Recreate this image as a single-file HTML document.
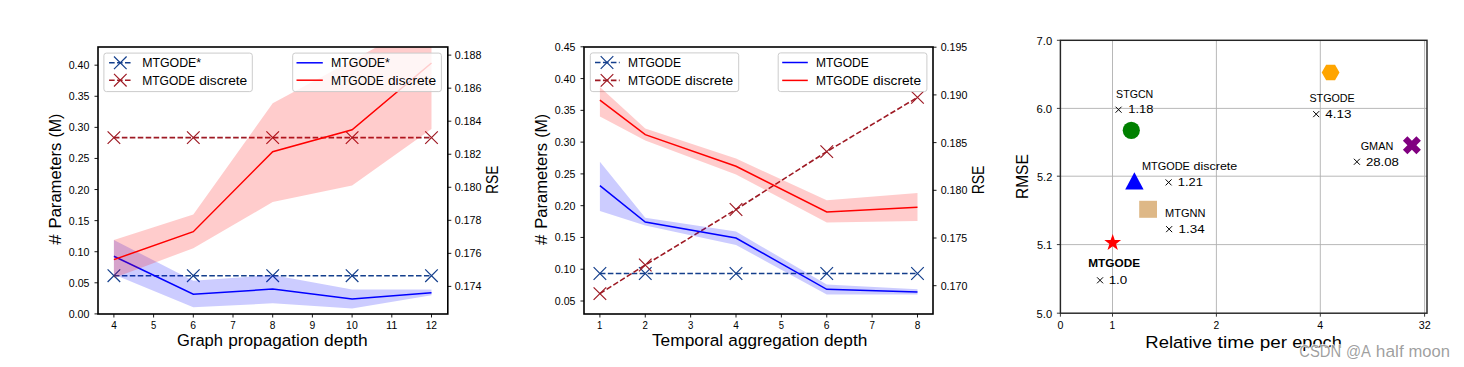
<!DOCTYPE html>
<html><head><meta charset="utf-8"><style>
html,body{margin:0;padding:0;background:#fff;width:1464px;height:367px;overflow:hidden;position:relative}
svg text{font-family:"Liberation Sans", sans-serif}
</style></head><body>
<svg width="1464" height="367" viewBox="0 0 1464 367" style="position:absolute;left:0;top:0" font-family='"Liberation Sans", sans-serif'>
<rect width="1464" height="367" fill="#fff"/>
<defs><clipPath id="c1"><rect x="98.0" y="47.0" width="349.8" height="267.0"/></clipPath><clipPath id="c2"><rect x="583.9" y="46.9" width="349.2" height="267.1"/></clipPath></defs>
<g clip-path="url(#c1)">
<polyline points="113.90,275.70 193.30,275.70 272.70,275.70 352.10,275.70 431.50,275.70" fill="none" stroke="#143f8c" stroke-width="1.6" stroke-dasharray="5.55 2.4"/>
<path d="M107.60,269.40L120.20,282.00M107.60,282.00L120.20,269.40" stroke="#143f8c" stroke-width="1.2" fill="none"/>
<path d="M187.00,269.40L199.60,282.00M187.00,282.00L199.60,269.40" stroke="#143f8c" stroke-width="1.2" fill="none"/>
<path d="M266.40,269.40L279.00,282.00M266.40,282.00L279.00,269.40" stroke="#143f8c" stroke-width="1.2" fill="none"/>
<path d="M345.80,269.40L358.40,282.00M345.80,282.00L358.40,269.40" stroke="#143f8c" stroke-width="1.2" fill="none"/>
<path d="M425.20,269.40L437.80,282.00M425.20,282.00L437.80,269.40" stroke="#143f8c" stroke-width="1.2" fill="none"/>
<polyline points="113.90,137.60 193.30,137.60 272.70,137.60 352.10,137.60 431.50,137.60" fill="none" stroke="#9e1a24" stroke-width="1.6" stroke-dasharray="5.55 2.4"/>
<path d="M107.60,131.30L120.20,143.90M107.60,143.90L120.20,131.30" stroke="#9e1a24" stroke-width="1.2" fill="none"/>
<path d="M187.00,131.30L199.60,143.90M187.00,143.90L199.60,131.30" stroke="#9e1a24" stroke-width="1.2" fill="none"/>
<path d="M266.40,131.30L279.00,143.90M266.40,143.90L279.00,131.30" stroke="#9e1a24" stroke-width="1.2" fill="none"/>
<path d="M345.80,131.30L358.40,143.90M345.80,143.90L358.40,131.30" stroke="#9e1a24" stroke-width="1.2" fill="none"/>
<path d="M425.20,131.30L437.80,143.90M425.20,143.90L437.80,131.30" stroke="#9e1a24" stroke-width="1.2" fill="none"/>
</g>
<rect x="103.90" y="53.10" width="148.40" height="38.50" rx="2.5" ry="2.5" fill="rgba(255,255,255,0.8)" stroke="#cccccc" stroke-width="1"/>
<line x1="109.10" y1="62.80" x2="130.60" y2="62.80" stroke="#143f8c" stroke-width="1.6" stroke-dasharray="5.55 2.4"/>
<path d="M114.00,56.50L126.60,69.10M114.00,69.10L126.60,56.50" stroke="#143f8c" stroke-width="1.2" fill="none"/>
<text x="142.19" y="67.20" font-size="12" textLength="58.92" lengthAdjust="spacingAndGlyphs" >MTGODE*</text>
<line x1="109.10" y1="80.20" x2="130.60" y2="80.20" stroke="#9e1a24" stroke-width="1.6" stroke-dasharray="5.55 2.4"/>
<path d="M114.00,73.90L126.60,86.50M114.00,86.50L126.60,73.90" stroke="#9e1a24" stroke-width="1.2" fill="none"/>
<text x="142.21" y="84.60" font-size="12" textLength="52.81" lengthAdjust="spacingAndGlyphs" >MTGODE</text>
<text x="199.17" y="84.60" font-size="12" textLength="48.09" lengthAdjust="spacingAndGlyphs" >discrete</text>
<g clip-path="url(#c1)">
<polygon points="113.90,240.00 193.30,280.70 272.70,275.00 352.10,289.40 431.50,289.40 431.50,295.20 352.10,308.60 272.70,303.30 193.30,307.30 113.90,274.50" fill="rgba(0,0,255,0.2)" stroke="none"/>
<polyline points="113.90,256.30 193.30,294.20 272.70,289.10 352.10,298.90 431.50,292.70" fill="none" stroke="#0000ff" stroke-width="1.5"/>
<polygon points="113.90,240.00 193.30,214.50 272.70,103.30 352.10,60.50 431.50,17.00 431.50,129.10 352.10,185.50 272.70,202.10 193.30,248.20 113.90,278.00" fill="rgba(255,0,0,0.2)" stroke="none"/>
<polyline points="113.90,259.60 193.30,231.70 272.70,151.70 352.10,129.70 431.50,63.00" fill="none" stroke="#ff0000" stroke-width="1.5"/>
</g>
<rect x="292.70" y="53.10" width="148.70" height="38.50" rx="2.5" ry="2.5" fill="rgba(255,255,255,0.8)" stroke="#cccccc" stroke-width="1"/>
<line x1="296.50" y1="62.80" x2="322.80" y2="62.80" stroke="#0000ff" stroke-width="1.5"/>
<text x="330.99" y="67.20" font-size="12" textLength="58.92" lengthAdjust="spacingAndGlyphs" >MTGODE*</text>
<line x1="296.50" y1="80.20" x2="322.80" y2="80.20" stroke="#ff0000" stroke-width="1.5"/>
<text x="331.01" y="84.60" font-size="12" textLength="52.81" lengthAdjust="spacingAndGlyphs" >MTGODE</text>
<text x="387.97" y="84.60" font-size="12" textLength="48.09" lengthAdjust="spacingAndGlyphs" >discrete</text>
<rect x="98.00" y="47.00" width="349.80" height="267.00" fill="none" stroke="#000" stroke-width="1.6"/>
<line x1="94.50" y1="313.90" x2="98.00" y2="313.90" stroke="#000" stroke-width="0.9"/>
<text x="68.69" y="317.90" font-size="10" textLength="20.73" lengthAdjust="spacingAndGlyphs" >0.00</text>
<line x1="94.50" y1="282.81" x2="98.00" y2="282.81" stroke="#000" stroke-width="0.9"/>
<text x="68.89" y="286.81" font-size="10" textLength="20.55" lengthAdjust="spacingAndGlyphs" >0.05</text>
<line x1="94.50" y1="251.72" x2="98.00" y2="251.72" stroke="#000" stroke-width="0.9"/>
<text x="68.69" y="255.72" font-size="10" textLength="20.73" lengthAdjust="spacingAndGlyphs" >0.10</text>
<line x1="94.50" y1="220.63" x2="98.00" y2="220.63" stroke="#000" stroke-width="0.9"/>
<text x="68.89" y="224.63" font-size="10" textLength="20.55" lengthAdjust="spacingAndGlyphs" >0.15</text>
<line x1="94.50" y1="189.54" x2="98.00" y2="189.54" stroke="#000" stroke-width="0.9"/>
<text x="68.69" y="193.54" font-size="10" textLength="20.73" lengthAdjust="spacingAndGlyphs" >0.20</text>
<line x1="94.50" y1="158.45" x2="98.00" y2="158.45" stroke="#000" stroke-width="0.9"/>
<text x="68.89" y="162.45" font-size="10" textLength="20.55" lengthAdjust="spacingAndGlyphs" >0.25</text>
<line x1="94.50" y1="127.36" x2="98.00" y2="127.36" stroke="#000" stroke-width="0.9"/>
<text x="68.69" y="131.36" font-size="10" textLength="20.73" lengthAdjust="spacingAndGlyphs" >0.30</text>
<line x1="94.50" y1="96.27" x2="98.00" y2="96.27" stroke="#000" stroke-width="0.9"/>
<text x="68.89" y="100.27" font-size="10" textLength="20.55" lengthAdjust="spacingAndGlyphs" >0.35</text>
<line x1="94.50" y1="65.18" x2="98.00" y2="65.18" stroke="#000" stroke-width="0.9"/>
<text x="68.69" y="69.18" font-size="10" textLength="20.73" lengthAdjust="spacingAndGlyphs" >0.40</text>
<line x1="113.90" y1="314.00" x2="113.90" y2="317.50" stroke="#000" stroke-width="0.9"/>
<text x="111.15" y="328.90" font-size="10" textLength="5.57" lengthAdjust="spacingAndGlyphs" >4</text>
<line x1="153.60" y1="314.00" x2="153.60" y2="317.50" stroke="#000" stroke-width="0.9"/>
<text x="150.98" y="328.90" font-size="10" textLength="5.26" lengthAdjust="spacingAndGlyphs" >5</text>
<line x1="193.30" y1="314.00" x2="193.30" y2="317.50" stroke="#000" stroke-width="0.9"/>
<text x="190.38" y="328.90" font-size="10" textLength="5.76" lengthAdjust="spacingAndGlyphs" >6</text>
<line x1="233.00" y1="314.00" x2="233.00" y2="317.50" stroke="#000" stroke-width="0.9"/>
<text x="230.27" y="328.90" font-size="10" textLength="5.45" lengthAdjust="spacingAndGlyphs" >7</text>
<line x1="272.70" y1="314.00" x2="272.70" y2="317.50" stroke="#000" stroke-width="0.9"/>
<text x="269.89" y="328.90" font-size="10" textLength="5.63" lengthAdjust="spacingAndGlyphs" >8</text>
<line x1="312.40" y1="314.00" x2="312.40" y2="317.50" stroke="#000" stroke-width="0.9"/>
<text x="309.53" y="328.90" font-size="10" textLength="5.75" lengthAdjust="spacingAndGlyphs" >9</text>
<line x1="352.10" y1="314.00" x2="352.10" y2="317.50" stroke="#000" stroke-width="0.9"/>
<text x="346.10" y="328.90" font-size="10" textLength="11.62" lengthAdjust="spacingAndGlyphs" >10</text>
<line x1="391.80" y1="314.00" x2="391.80" y2="317.50" stroke="#000" stroke-width="0.9"/>
<text x="385.93" y="328.90" font-size="10" textLength="11.46" lengthAdjust="spacingAndGlyphs" >11</text>
<line x1="431.50" y1="314.00" x2="431.50" y2="317.50" stroke="#000" stroke-width="0.9"/>
<text x="425.67" y="328.90" font-size="10" textLength="11.39" lengthAdjust="spacingAndGlyphs" >12</text>
<line x1="447.80" y1="286.40" x2="451.30" y2="286.40" stroke="#000" stroke-width="0.9"/>
<text x="454.68" y="290.40" font-size="10" textLength="26.77" lengthAdjust="spacingAndGlyphs" >0.174</text>
<line x1="447.80" y1="253.36" x2="451.30" y2="253.36" stroke="#000" stroke-width="0.9"/>
<text x="454.68" y="257.36" font-size="10" textLength="26.86" lengthAdjust="spacingAndGlyphs" >0.176</text>
<line x1="447.80" y1="220.32" x2="451.30" y2="220.32" stroke="#000" stroke-width="0.9"/>
<text x="454.68" y="224.32" font-size="10" textLength="26.80" lengthAdjust="spacingAndGlyphs" >0.178</text>
<line x1="447.80" y1="187.28" x2="451.30" y2="187.28" stroke="#000" stroke-width="0.9"/>
<text x="454.68" y="191.28" font-size="10" textLength="26.78" lengthAdjust="spacingAndGlyphs" >0.180</text>
<line x1="447.80" y1="154.24" x2="451.30" y2="154.24" stroke="#000" stroke-width="0.9"/>
<text x="454.69" y="158.24" font-size="10" textLength="26.57" lengthAdjust="spacingAndGlyphs" >0.182</text>
<line x1="447.80" y1="121.20" x2="451.30" y2="121.20" stroke="#000" stroke-width="0.9"/>
<text x="454.68" y="125.20" font-size="10" textLength="26.77" lengthAdjust="spacingAndGlyphs" >0.184</text>
<line x1="447.80" y1="88.16" x2="451.30" y2="88.16" stroke="#000" stroke-width="0.9"/>
<text x="454.68" y="92.16" font-size="10" textLength="26.86" lengthAdjust="spacingAndGlyphs" >0.186</text>
<line x1="447.80" y1="55.12" x2="451.30" y2="55.12" stroke="#000" stroke-width="0.9"/>
<text x="454.68" y="59.12" font-size="10" textLength="26.80" lengthAdjust="spacingAndGlyphs" >0.188</text>
<text x="177.07" y="346.00" font-size="16.3" textLength="45.91" lengthAdjust="spacingAndGlyphs" >Graph</text>
<text x="228.22" y="346.00" font-size="16.3" textLength="90.84" lengthAdjust="spacingAndGlyphs" >propagation</text>
<text x="324.10" y="346.00" font-size="16.3" textLength="43.52" lengthAdjust="spacingAndGlyphs" >depth</text>
<text x="61.62" y="245.20" font-size="15.8" textLength="10.37" lengthAdjust="spacingAndGlyphs" transform="rotate(-90 61.10 245.20)" >#</text>
<text x="77.88" y="245.20" font-size="15.8" textLength="85.75" lengthAdjust="spacingAndGlyphs" transform="rotate(-90 61.10 245.20)" >Parameters</text>
<text x="168.78" y="245.20" font-size="15.8" textLength="23.91" lengthAdjust="spacingAndGlyphs" transform="rotate(-90 61.10 245.20)" >(M)</text>
<text x="497.47" y="193.40" font-size="15.8" textLength="28.22" lengthAdjust="spacingAndGlyphs" transform="rotate(-90 498.00 193.40)" >RSE</text>
<g clip-path="url(#c2)">
<polyline points="599.90,273.50 645.27,273.50 736.01,273.50 826.75,273.50 917.49,273.50" fill="none" stroke="#143f8c" stroke-width="1.6" stroke-dasharray="5.55 2.4"/>
<path d="M593.60,267.20L606.20,279.80M593.60,279.80L606.20,267.20" stroke="#143f8c" stroke-width="1.2" fill="none"/>
<path d="M638.97,267.20L651.57,279.80M638.97,279.80L651.57,267.20" stroke="#143f8c" stroke-width="1.2" fill="none"/>
<path d="M729.71,267.20L742.31,279.80M729.71,279.80L742.31,267.20" stroke="#143f8c" stroke-width="1.2" fill="none"/>
<path d="M820.45,267.20L833.05,279.80M820.45,279.80L833.05,267.20" stroke="#143f8c" stroke-width="1.2" fill="none"/>
<path d="M911.19,267.20L923.79,279.80M911.19,279.80L923.79,267.20" stroke="#143f8c" stroke-width="1.2" fill="none"/>
<polyline points="599.90,293.60 645.27,265.00 736.01,209.50 826.75,151.60 917.49,97.40" fill="none" stroke="#9e1a24" stroke-width="1.6" stroke-dasharray="5.55 2.4"/>
<path d="M593.60,287.30L606.20,299.90M593.60,299.90L606.20,287.30" stroke="#9e1a24" stroke-width="1.2" fill="none"/>
<path d="M638.97,258.70L651.57,271.30M638.97,271.30L651.57,258.70" stroke="#9e1a24" stroke-width="1.2" fill="none"/>
<path d="M729.71,203.20L742.31,215.80M729.71,215.80L742.31,203.20" stroke="#9e1a24" stroke-width="1.2" fill="none"/>
<path d="M820.45,145.30L833.05,157.90M820.45,157.90L833.05,145.30" stroke="#9e1a24" stroke-width="1.2" fill="none"/>
<path d="M911.19,91.10L923.79,103.70M911.19,103.70L923.79,91.10" stroke="#9e1a24" stroke-width="1.2" fill="none"/>
</g>
<rect x="590.30" y="52.90" width="148.40" height="38.70" rx="2.5" ry="2.5" fill="rgba(255,255,255,0.8)" stroke="#cccccc" stroke-width="1"/>
<line x1="595.00" y1="62.50" x2="619.70" y2="62.50" stroke="#143f8c" stroke-width="1.6" stroke-dasharray="5.55 2.4"/>
<path d="M600.70,56.20L613.30,68.80M600.70,68.80L613.30,56.20" stroke="#143f8c" stroke-width="1.2" fill="none"/>
<text x="628.11" y="66.90" font-size="12" textLength="52.81" lengthAdjust="spacingAndGlyphs" >MTGODE</text>
<line x1="595.00" y1="80.40" x2="619.70" y2="80.40" stroke="#9e1a24" stroke-width="1.6" stroke-dasharray="5.55 2.4"/>
<path d="M600.70,74.10L613.30,86.70M600.70,86.70L613.30,74.10" stroke="#9e1a24" stroke-width="1.2" fill="none"/>
<text x="628.11" y="84.80" font-size="12" textLength="52.81" lengthAdjust="spacingAndGlyphs" >MTGODE</text>
<text x="685.07" y="84.80" font-size="12" textLength="48.09" lengthAdjust="spacingAndGlyphs" >discrete</text>
<g clip-path="url(#c2)">
<polygon points="599.90,161.80 645.27,217.80 736.01,231.50 826.75,284.60 917.49,289.30 917.49,294.50 826.75,294.40 736.01,245.00 645.27,225.60 599.90,211.00" fill="rgba(0,0,255,0.2)" stroke="none"/>
<polyline points="599.90,185.70 645.27,222.00 736.01,238.00 826.75,289.30 917.49,292.00" fill="none" stroke="#0000ff" stroke-width="1.5"/>
<polygon points="599.90,87.00 645.27,128.50 736.01,158.50 826.75,200.30 917.49,193.00 917.49,221.00 826.75,222.50 736.01,174.50 645.27,140.50 599.90,116.60" fill="rgba(255,0,0,0.2)" stroke="none"/>
<polyline points="599.90,100.20 645.27,134.60 736.01,166.30 826.75,211.90 917.49,207.20" fill="none" stroke="#ff0000" stroke-width="1.5"/>
</g>
<rect x="778.20" y="52.90" width="148.70" height="38.70" rx="2.5" ry="2.5" fill="rgba(255,255,255,0.8)" stroke="#cccccc" stroke-width="1"/>
<line x1="782.20" y1="62.50" x2="807.80" y2="62.50" stroke="#0000ff" stroke-width="1.5"/>
<text x="816.01" y="66.90" font-size="12" textLength="52.81" lengthAdjust="spacingAndGlyphs" >MTGODE</text>
<line x1="782.20" y1="80.40" x2="807.80" y2="80.40" stroke="#ff0000" stroke-width="1.5"/>
<text x="816.01" y="84.80" font-size="12" textLength="52.81" lengthAdjust="spacingAndGlyphs" >MTGODE</text>
<text x="872.97" y="84.80" font-size="12" textLength="48.09" lengthAdjust="spacingAndGlyphs" >discrete</text>
<rect x="584.00" y="47.00" width="349.00" height="267.00" fill="none" stroke="#000" stroke-width="1.6"/>
<line x1="580.50" y1="301.00" x2="584.00" y2="301.00" stroke="#000" stroke-width="0.9"/>
<text x="554.89" y="305.00" font-size="10" textLength="20.55" lengthAdjust="spacingAndGlyphs" >0.05</text>
<line x1="580.50" y1="269.23" x2="584.00" y2="269.23" stroke="#000" stroke-width="0.9"/>
<text x="554.69" y="273.23" font-size="10" textLength="20.73" lengthAdjust="spacingAndGlyphs" >0.10</text>
<line x1="580.50" y1="237.45" x2="584.00" y2="237.45" stroke="#000" stroke-width="0.9"/>
<text x="554.89" y="241.45" font-size="10" textLength="20.55" lengthAdjust="spacingAndGlyphs" >0.15</text>
<line x1="580.50" y1="205.68" x2="584.00" y2="205.68" stroke="#000" stroke-width="0.9"/>
<text x="554.69" y="209.68" font-size="10" textLength="20.73" lengthAdjust="spacingAndGlyphs" >0.20</text>
<line x1="580.50" y1="173.90" x2="584.00" y2="173.90" stroke="#000" stroke-width="0.9"/>
<text x="554.89" y="177.90" font-size="10" textLength="20.55" lengthAdjust="spacingAndGlyphs" >0.25</text>
<line x1="580.50" y1="142.12" x2="584.00" y2="142.12" stroke="#000" stroke-width="0.9"/>
<text x="554.69" y="146.12" font-size="10" textLength="20.73" lengthAdjust="spacingAndGlyphs" >0.30</text>
<line x1="580.50" y1="110.35" x2="584.00" y2="110.35" stroke="#000" stroke-width="0.9"/>
<text x="554.89" y="114.35" font-size="10" textLength="20.55" lengthAdjust="spacingAndGlyphs" >0.35</text>
<line x1="580.50" y1="78.58" x2="584.00" y2="78.58" stroke="#000" stroke-width="0.9"/>
<text x="554.69" y="82.58" font-size="10" textLength="20.73" lengthAdjust="spacingAndGlyphs" >0.40</text>
<line x1="580.50" y1="46.80" x2="584.00" y2="46.80" stroke="#000" stroke-width="0.9"/>
<text x="554.89" y="50.80" font-size="10" textLength="20.55" lengthAdjust="spacingAndGlyphs" >0.45</text>
<line x1="599.90" y1="314.00" x2="599.90" y2="317.50" stroke="#000" stroke-width="0.9"/>
<text x="597.11" y="328.90" font-size="10" textLength="5.32" lengthAdjust="spacingAndGlyphs" >1</text>
<line x1="645.27" y1="314.00" x2="645.27" y2="317.50" stroke="#000" stroke-width="0.9"/>
<text x="642.59" y="328.90" font-size="10" textLength="5.37" lengthAdjust="spacingAndGlyphs" >2</text>
<line x1="690.64" y1="314.00" x2="690.64" y2="317.50" stroke="#000" stroke-width="0.9"/>
<text x="687.99" y="328.90" font-size="10" textLength="5.35" lengthAdjust="spacingAndGlyphs" >3</text>
<line x1="736.01" y1="314.00" x2="736.01" y2="317.50" stroke="#000" stroke-width="0.9"/>
<text x="733.26" y="328.90" font-size="10" textLength="5.57" lengthAdjust="spacingAndGlyphs" >4</text>
<line x1="781.38" y1="314.00" x2="781.38" y2="317.50" stroke="#000" stroke-width="0.9"/>
<text x="778.76" y="328.90" font-size="10" textLength="5.26" lengthAdjust="spacingAndGlyphs" >5</text>
<line x1="826.75" y1="314.00" x2="826.75" y2="317.50" stroke="#000" stroke-width="0.9"/>
<text x="823.83" y="328.90" font-size="10" textLength="5.76" lengthAdjust="spacingAndGlyphs" >6</text>
<line x1="872.12" y1="314.00" x2="872.12" y2="317.50" stroke="#000" stroke-width="0.9"/>
<text x="869.39" y="328.90" font-size="10" textLength="5.45" lengthAdjust="spacingAndGlyphs" >7</text>
<line x1="917.49" y1="314.00" x2="917.49" y2="317.50" stroke="#000" stroke-width="0.9"/>
<text x="914.68" y="328.90" font-size="10" textLength="5.63" lengthAdjust="spacingAndGlyphs" >8</text>
<line x1="933.00" y1="285.70" x2="936.50" y2="285.70" stroke="#000" stroke-width="0.9"/>
<text x="940.68" y="289.70" font-size="10" textLength="26.78" lengthAdjust="spacingAndGlyphs" >0.170</text>
<line x1="933.00" y1="238.00" x2="936.50" y2="238.00" stroke="#000" stroke-width="0.9"/>
<text x="940.68" y="242.00" font-size="10" textLength="26.60" lengthAdjust="spacingAndGlyphs" >0.175</text>
<line x1="933.00" y1="190.30" x2="936.50" y2="190.30" stroke="#000" stroke-width="0.9"/>
<text x="940.68" y="194.30" font-size="10" textLength="26.78" lengthAdjust="spacingAndGlyphs" >0.180</text>
<line x1="933.00" y1="142.60" x2="936.50" y2="142.60" stroke="#000" stroke-width="0.9"/>
<text x="940.68" y="146.60" font-size="10" textLength="26.60" lengthAdjust="spacingAndGlyphs" >0.185</text>
<line x1="933.00" y1="94.90" x2="936.50" y2="94.90" stroke="#000" stroke-width="0.9"/>
<text x="940.68" y="98.90" font-size="10" textLength="26.78" lengthAdjust="spacingAndGlyphs" >0.190</text>
<line x1="933.00" y1="47.20" x2="936.50" y2="47.20" stroke="#000" stroke-width="0.9"/>
<text x="940.68" y="51.20" font-size="10" textLength="26.60" lengthAdjust="spacingAndGlyphs" >0.195</text>
<text x="651.92" y="346.00" font-size="16.3" textLength="71.25" lengthAdjust="spacingAndGlyphs" >Temporal</text>
<text x="728.38" y="346.00" font-size="16.3" textLength="90.59" lengthAdjust="spacingAndGlyphs" >aggregation</text>
<text x="823.99" y="346.00" font-size="16.3" textLength="43.34" lengthAdjust="spacingAndGlyphs" >depth</text>
<text x="547.42" y="245.60" font-size="15.8" textLength="10.38" lengthAdjust="spacingAndGlyphs" transform="rotate(-90 546.90 245.60)" >#</text>
<text x="563.70" y="245.60" font-size="15.8" textLength="85.88" lengthAdjust="spacingAndGlyphs" transform="rotate(-90 546.90 245.60)" >Parameters</text>
<text x="654.75" y="245.60" font-size="15.8" textLength="23.94" lengthAdjust="spacingAndGlyphs" transform="rotate(-90 546.90 245.60)" >(M)</text>
<text x="983.76" y="193.80" font-size="15.8" textLength="28.64" lengthAdjust="spacingAndGlyphs" transform="rotate(-90 984.30 193.80)" >RSE</text>
<line x1="1112.50" y1="40.30" x2="1112.50" y2="313.20" stroke="#b0b0b0" stroke-width="0.9"/>
<line x1="1216.40" y1="40.30" x2="1216.40" y2="313.20" stroke="#b0b0b0" stroke-width="0.9"/>
<line x1="1320.30" y1="40.30" x2="1320.30" y2="313.20" stroke="#b0b0b0" stroke-width="0.9"/>
<line x1="1424.60" y1="40.30" x2="1424.60" y2="313.20" stroke="#b0b0b0" stroke-width="0.9"/>
<line x1="1060.40" y1="244.60" x2="1427.00" y2="244.60" stroke="#b0b0b0" stroke-width="0.9"/>
<line x1="1060.40" y1="176.20" x2="1427.00" y2="176.20" stroke="#b0b0b0" stroke-width="0.9"/>
<line x1="1060.40" y1="108.40" x2="1427.00" y2="108.40" stroke="#b0b0b0" stroke-width="0.9"/>
<rect x="1060.40" y="40.30" width="366.60" height="272.90" fill="none" stroke="#262626" stroke-width="1.45"/>
<line x1="1056.90" y1="313.20" x2="1060.40" y2="313.20" stroke="#262626" stroke-width="0.9"/>
<text x="1036.64" y="317.50" font-size="10.6" textLength="15.49" lengthAdjust="spacingAndGlyphs" >5.0</text>
<line x1="1056.90" y1="244.60" x2="1060.40" y2="244.60" stroke="#262626" stroke-width="0.9"/>
<text x="1036.91" y="248.90" font-size="10.6" textLength="15.33" lengthAdjust="spacingAndGlyphs" >5.1</text>
<line x1="1056.90" y1="176.20" x2="1060.40" y2="176.20" stroke="#262626" stroke-width="0.9"/>
<text x="1036.99" y="180.50" font-size="10.6" textLength="15.26" lengthAdjust="spacingAndGlyphs" >5.2</text>
<line x1="1056.90" y1="108.40" x2="1060.40" y2="108.40" stroke="#262626" stroke-width="0.9"/>
<text x="1036.44" y="112.70" font-size="10.6" textLength="15.70" lengthAdjust="spacingAndGlyphs" >6.0</text>
<line x1="1056.90" y1="40.30" x2="1060.40" y2="40.30" stroke="#262626" stroke-width="0.9"/>
<text x="1036.56" y="44.60" font-size="10.6" textLength="15.58" lengthAdjust="spacingAndGlyphs" >7.0</text>
<line x1="1060.40" y1="313.20" x2="1060.40" y2="316.70" stroke="#262626" stroke-width="0.9"/>
<text x="1057.44" y="329.10" font-size="10.6" textLength="5.92" lengthAdjust="spacingAndGlyphs" >0</text>
<line x1="1112.50" y1="313.20" x2="1112.50" y2="316.70" stroke="#262626" stroke-width="0.9"/>
<text x="1109.53" y="329.10" font-size="10.6" textLength="5.66" lengthAdjust="spacingAndGlyphs" >1</text>
<line x1="1216.40" y1="313.20" x2="1216.40" y2="316.70" stroke="#262626" stroke-width="0.9"/>
<text x="1213.55" y="329.10" font-size="10.6" textLength="5.71" lengthAdjust="spacingAndGlyphs" >2</text>
<line x1="1320.30" y1="313.20" x2="1320.30" y2="316.70" stroke="#262626" stroke-width="0.9"/>
<text x="1317.37" y="329.10" font-size="10.6" textLength="5.92" lengthAdjust="spacingAndGlyphs" >4</text>
<line x1="1424.60" y1="313.20" x2="1424.60" y2="316.70" stroke="#262626" stroke-width="0.9"/>
<text x="1418.65" y="329.10" font-size="10.6" textLength="12.03" lengthAdjust="spacingAndGlyphs" >32</text>
<text x="1145.39" y="348.30" font-size="16.9" textLength="66.71" lengthAdjust="spacingAndGlyphs" >Relative</text>
<text x="1217.50" y="348.30" font-size="16.9" textLength="36.89" lengthAdjust="spacingAndGlyphs" >time</text>
<text x="1259.89" y="348.30" font-size="16.9" textLength="27.28" lengthAdjust="spacingAndGlyphs" >per</text>
<text x="1292.19" y="348.30" font-size="16.9" textLength="49.59" lengthAdjust="spacingAndGlyphs" >epoch</text>
<text x="1027.53" y="198.30" font-size="16.3" textLength="44.74" lengthAdjust="spacingAndGlyphs" transform="rotate(-90 1028.20 198.30)" >RMSE</text>
<circle cx="1131.3" cy="130.3" r="8.6" fill="#008000"/>
<polygon points="1134.40,172.30 1143.60,189.60 1125.20,189.60" fill="#0000ff"/>
<rect x="1139.2" y="200.8" width="17.8" height="17.0" fill="#deb887"/>
<polygon points="1112.70,234.00 1114.76,239.97 1121.07,240.08 1116.03,243.88 1117.87,249.92 1112.70,246.30 1107.53,249.92 1109.37,243.88 1104.33,240.08 1110.64,239.97" fill="#ff0000"/>
<polygon points="1339.50,72.50 1335.05,80.21 1326.15,80.21 1321.70,72.50 1326.15,64.79 1335.05,64.79" fill="#ffa500"/>
<polygon points="1411.90,149.80 1416.40,154.30 1420.90,149.80 1416.40,145.30 1420.90,140.80 1416.40,136.30 1411.90,140.80 1407.40,136.30 1402.90,140.80 1407.40,145.30 1402.90,149.80 1407.40,154.30" fill="#800080"/>
<text x="1116.12" y="98.00" font-size="11.3" textLength="37.15" lengthAdjust="spacingAndGlyphs" >STGCN</text>
<path d="M1115.55,106.70L1121.55,112.70M1115.55,112.70L1121.55,106.70" stroke="#000" stroke-width="1.0" fill="none"/>
<text x="1128.21" y="113.40" font-size="11.3" textLength="25.25" lengthAdjust="spacingAndGlyphs" >1.18</text>
<text x="1141.90" y="170.30" font-size="11.3" textLength="47.93" lengthAdjust="spacingAndGlyphs" >MTGODE</text>
<text x="1193.60" y="170.30" font-size="11.3" textLength="43.65" lengthAdjust="spacingAndGlyphs" >discrete</text>
<path d="M1165.60,179.40L1171.60,185.40M1165.60,185.40L1171.60,179.40" stroke="#000" stroke-width="1.0" fill="none"/>
<text x="1177.71" y="186.30" font-size="11.3" textLength="25.22" lengthAdjust="spacingAndGlyphs" >1.21</text>
<text x="1164.99" y="216.50" font-size="11.3" textLength="40.51" lengthAdjust="spacingAndGlyphs" >MTGNN</text>
<path d="M1166.15,226.15L1172.15,232.15M1166.15,232.15L1172.15,226.15" stroke="#000" stroke-width="1.0" fill="none"/>
<text x="1178.58" y="232.80" font-size="11.3" textLength="26.01" lengthAdjust="spacingAndGlyphs" >1.34</text>
<text x="1088.31" y="267.20" font-size="11.3" textLength="51.75" lengthAdjust="spacingAndGlyphs" font-weight="bold" >MTGODE</text>
<path d="M1097.05,277.30L1103.05,283.30M1097.05,283.30L1103.05,277.30" stroke="#000" stroke-width="1.0" fill="none"/>
<text x="1108.68" y="283.80" font-size="11.3" textLength="18.65" lengthAdjust="spacingAndGlyphs" >1.0</text>
<text x="1309.41" y="102.30" font-size="11.3" textLength="45.35" lengthAdjust="spacingAndGlyphs" >STGODE</text>
<path d="M1313.20,111.15L1319.20,117.15M1313.20,117.15L1319.20,111.15" stroke="#000" stroke-width="1.0" fill="none"/>
<text x="1325.29" y="117.90" font-size="11.3" textLength="26.10" lengthAdjust="spacingAndGlyphs" >4.13</text>
<text x="1360.65" y="149.80" font-size="11.3" textLength="32.63" lengthAdjust="spacingAndGlyphs" >GMAN</text>
<path d="M1353.90,158.75L1359.90,164.75M1353.90,164.75L1359.90,158.75" stroke="#000" stroke-width="1.0" fill="none"/>
<text x="1365.94" y="165.80" font-size="11.3" textLength="33.04" lengthAdjust="spacingAndGlyphs" >28.08</text>
<text x="1299.35" y="357.00" font-size="16.8" textLength="41.83" lengthAdjust="spacingAndGlyphs" fill="rgba(128,128,128,0.75)" stroke="rgba(255,255,255,0.85)" stroke-width="1.6" paint-order="stroke">CSDN</text>
<text x="1345.94" y="357.00" font-size="16.8" textLength="25.00" lengthAdjust="spacingAndGlyphs" fill="rgba(128,128,128,0.75)" stroke="rgba(255,255,255,0.85)" stroke-width="1.6" paint-order="stroke">@A</text>
<text x="1375.88" y="357.00" font-size="16.8" textLength="27.86" lengthAdjust="spacingAndGlyphs" fill="rgba(128,128,128,0.75)" stroke="rgba(255,255,255,0.85)" stroke-width="1.6" paint-order="stroke">half</text>
<text x="1408.43" y="357.00" font-size="16.8" textLength="41.45" lengthAdjust="spacingAndGlyphs" fill="rgba(128,128,128,0.75)" stroke="rgba(255,255,255,0.85)" stroke-width="1.6" paint-order="stroke">moon</text>
</svg>
</body></html>
